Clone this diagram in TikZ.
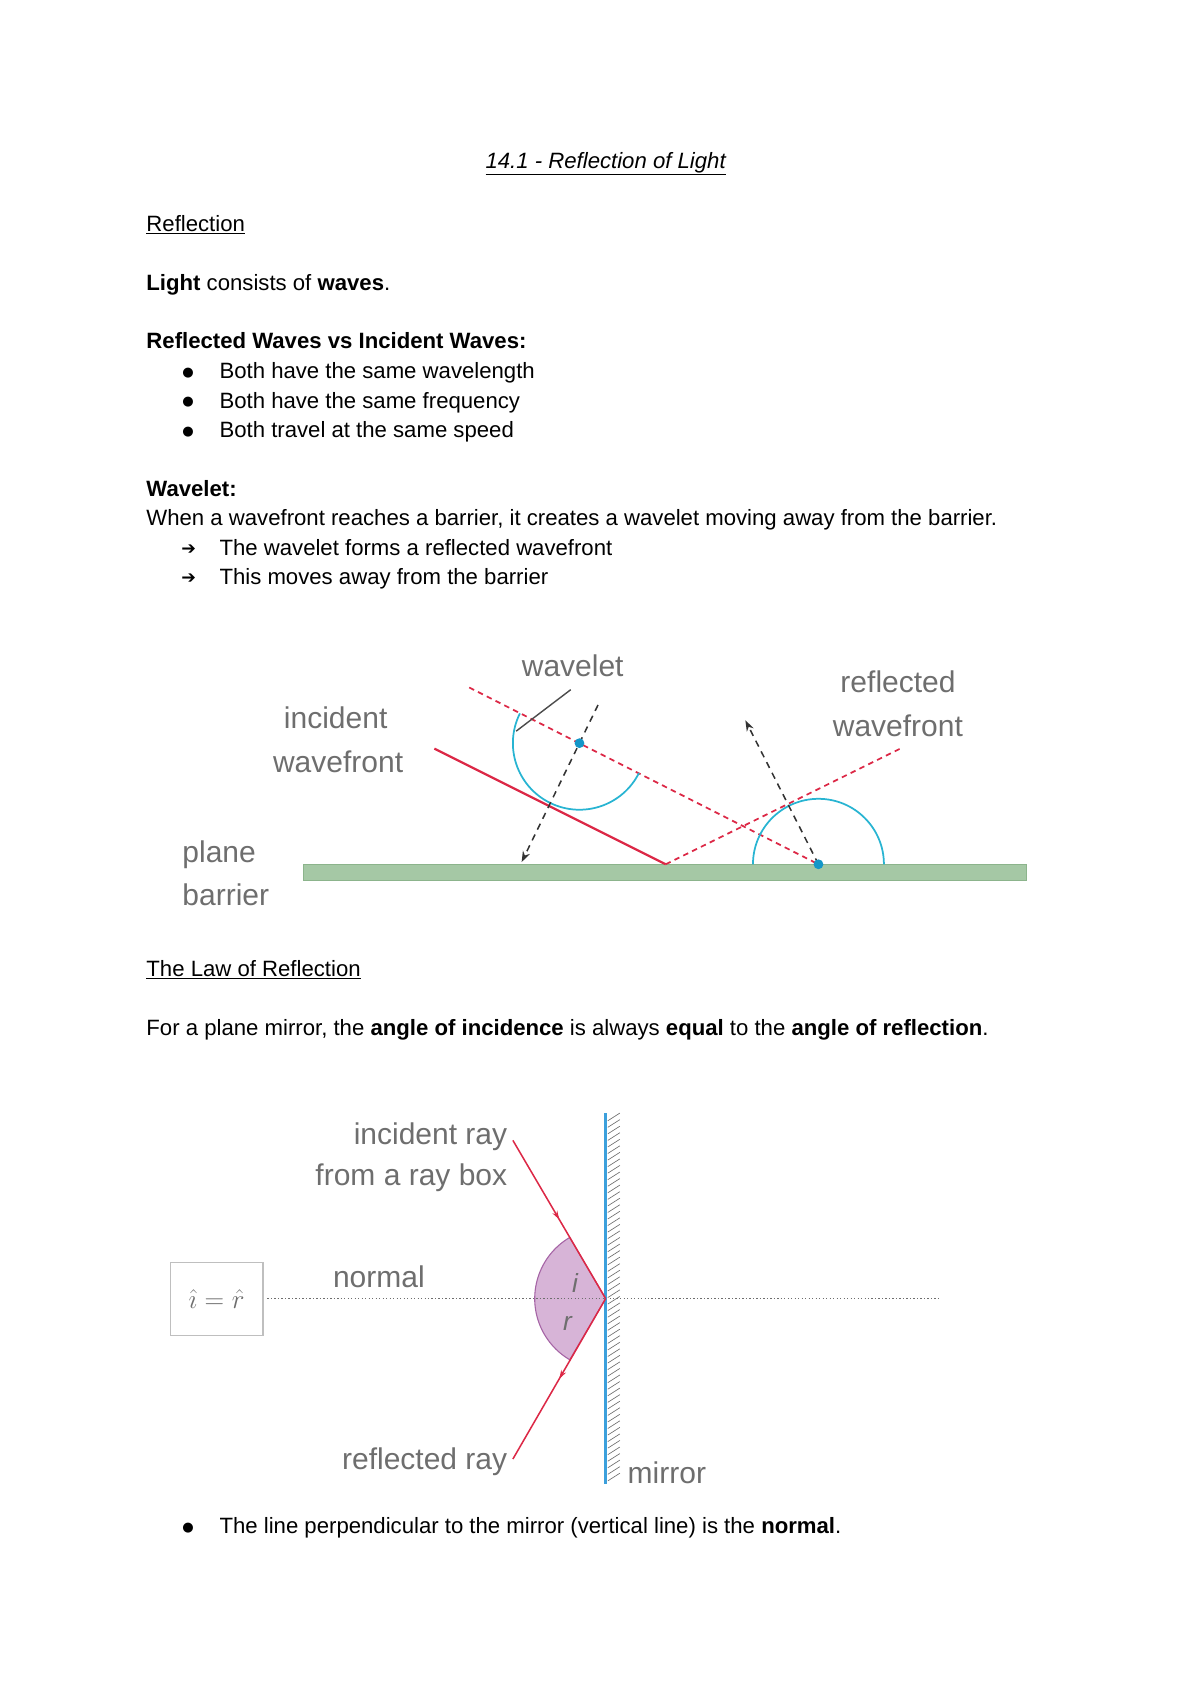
\documentclass[tikz,border=0pt]{standalone}
\usepackage{fontspec}
\setmainfont{Liberation Sans}
\newfontfamily\dv{DejaVu Sans}
\usetikzlibrary{arrows.meta,decorations.markings}
\definecolor{wred}{RGB}{220,40,70}
\definecolor{wcyan}{RGB}{40,180,210}
\definecolor{wdot}{RGB}{20,150,200}
\definecolor{wgreen}{RGB}{165,200,165}
\definecolor{wgreenl}{RGB}{140,180,140}
\definecolor{mblue}{RGB}{60,160,220}
\definecolor{lgray}{RGB}{110,110,110}
\definecolor{sfill}{RGB}{215,180,215}
\definecolor{sedge}{RGB}{165,100,165}
\begin{document}
\begin{tikzpicture}[x=1pt,y=-1pt,
  txt/.style={anchor=base west,inner sep=0,font=\fontsize{20.3}{24}\selectfont},
  lab/.style={inner sep=0,text=lgray,font=\fontsize{27.5}{32}\selectfont},
  wdash/.style={wred,line width=1.6pt,dash pattern=on 5pt off 4pt},
  kdash/.style={black!80,line width=1.4pt,dash pattern=on 6pt off 5pt,-{Stealth[length=10pt,width=7pt]}},
  wave/.style={wcyan,line width=1.6pt},
  bul/.style={anchor=base west,inner sep=0,font=\fontsize{12}{14}\selectfont},
  arw/.style={anchor=base west,inner sep=0,font=\fontsize{16}{18}\selectfont},
  ray/.style={wred,line width=1.4pt,postaction={decorate},decoration={markings,mark=at position 0.5 with {\arrow{Stealth[length=8pt,width=5pt]}}}}]
\useasboundingbox (0,0) rectangle (1100,1556);
% text
\node[txt,anchor=base] (title) at (555,154) {\underline{\itshape 14.1 - Reflection of Light}};
\node[txt] (t1) at (134,212) {\underline{Reflection}};
\node[txt] (t2) at (134,266) {\textbf{Light} consists of \textbf{waves}.};
\node[txt] (t3) at (134,319) {\textbf{Reflected Waves vs Incident Waves:}};
\foreach \y/\s [count=\i] in {347/Both have the same wavelength,374/Both have the same frequency,401/Both travel at the same speed}{
  \node[bul] (b\i) at (167,\y-2) {\dv ●};
  \node[txt] (bt\i) at (201,\y) {\s};}
\node[txt] (t4) at (134,455) {\textbf{Wavelet:}};
\node[txt] (t5) at (134,482) {When a wavefront reaches a barrier, it creates a wavelet moving away from the barrier.};
\node[arw] (a1) at (166,508) {\dv ➔};
\node[txt] (at1) at (201,509) {The wavelet forms a reflected wavefront};
\node[arw] (a2) at (166,535) {\dv ➔};
\node[txt] (at2) at (201,536) {This moves away from the barrier};
\node[txt] (t6) at (134,895) {\underline{The Law of Reflection}};
\node[txt] (t7) at (134,949) {For a plane mirror, the \textbf{angle of incidence} is always \textbf{equal} to the \textbf{angle of reflection}.};
\node[bul] (b4) at (167,1403) {\dv ●};
\node[txt] (bt4) at (201,1405) {The line perpendicular to the mirror (vertical line) is the \textbf{normal}.};
% diagram 1
\fill[wgreen,draw=wgreenl] (278,792) rectangle (940,807);
\node[lab,anchor=base west,align=left] (plane) at (167,790) {plane};
\node[lab,anchor=base west] (barrier) at (167,830) {barrier};
\node[lab,anchor=base west] (inc1) at (260,668) {incident};
\node[lab,anchor=base west] (inc2) at (250,708) {wavefront};
\node[lab,anchor=base west] (wl) at (478,620) {wavelet};
\node[lab,anchor=base west] (rf1) at (770,635) {reflected};
\node[lab,anchor=base west] (rf2) at (763,675) {wavefront};
\coordinate (d1) at (531,681);
\coordinate (d2) at (750,792);
\coordinate (pA) at (430,630);
\coordinate (hit) at (610,792);
\coordinate (iw) at (398,686);
\coordinate (rw) at (825,686);
\draw[wdash] (pA) -- (d2);
\draw[wdash] (hit) -- (rw);
\draw[wred,line width=2pt] (iw) -- (hit);
\draw[wave] (d1) ++(153.4:61pt) arc[start angle=153.4,end angle=333.4,radius=61pt];
\draw[wave] (d2) ++(180:60pt) arc[start angle=180,end angle=0,radius=60pt];
\coordinate (k1s) at (548,646);
\coordinate (k1e) at (478,790);
\coordinate (k2e) at (683,660);
\draw[kdash] (k1s) -- (k1e);
\draw[kdash] (d2) -- (k2e);
\coordinate (wl1) at (523,632);
\coordinate (wl2) at (473,670);
\draw[black!70,line width=1.3pt] (wl1) -- (wl2);
\fill[wdot] (d1) circle (4.5pt);
\fill[wdot] (d2) circle (4.5pt);
% diagram 2
\coordinate (o) at (555,1190);
\coordinate (ri) at (470,1045);
\coordinate (rr) at (470,1337);
\coordinate (nl) at (245,1190);
\coordinate (nr) at (860,1190);
\filldraw[fill=sfill,draw=sedge,line width=1pt] (o) -- ++(120.4:65pt) arc[start angle=120.4,end angle=239.6,radius=65pt] -- cycle;
\draw[lgray,line width=1.2pt,dotted] (nl) -- (nr);
\foreach \y in {1020,1026,...,1352}{\draw[lgray,line width=0.6pt] (557,\y+7) -- (568,\y);}
\draw[mblue,line width=3pt] (555,1020) -- (555,1360);
\draw[ray] (ri) -- (o);
\draw[ray] (o) -- (rr);
\node[lab,font=\fontsize{24}{28}\selectfont\itshape] (li) at (527,1176) {i};
\node[lab,font=\fontsize{24}{28}\selectfont\itshape] (lr) at (520,1213) {r};
\draw[black!25,line width=1pt] (156,1157) rectangle (241,1224);
\node[lab,font=\fontsize{27}{32}\selectfont\itshape] (box) at (198.5,1190.5) {$\hat{\imath}=\hat{r}$};
\node[lab,anchor=base west] (nrm) at (305,1180) {normal};
\node[lab,anchor=base east] (ir1) at (465,1049) {incident ray};
\node[lab,anchor=base east] (ir2) at (465,1086) {from a ray box};
\node[lab,anchor=base east] (rr1) at (465,1347) {reflected ray};
\node[lab,anchor=base west] (mir) at (575,1359) {mirror};
\end{tikzpicture}
\end{document}
